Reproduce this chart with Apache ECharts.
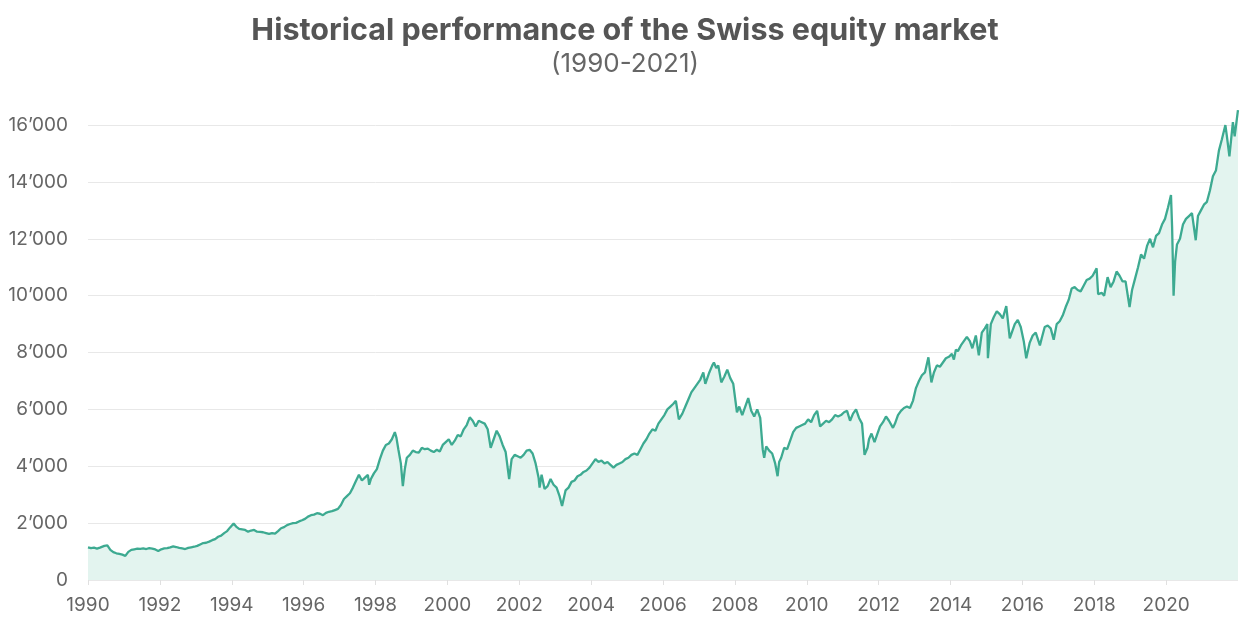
<!DOCTYPE html>
<html><head><meta charset="utf-8">
<script src="https://cdn.jsdelivr.net/npm/echarts@6/dist/echarts.min.js"></script>
<style>html,body{margin:0;padding:0;background:#fff}#c{width:1250px;height:625px}</style>
</head><body><div id="c"></div>
<script>
// Dates (approximate) and index level values
const dates = [
'1990-01-01','1990-02-01','1990-03-01','1990-04-01','1990-05-01','1990-06-15','1990-07-15','1990-08-15','1990-09-15','1990-10-15','1990-11-15','1990-12-15',
'1991-01-15','1991-02-15','1991-03-15','1991-04-15','1991-05-15','1991-06-15','1991-07-15','1991-08-15','1991-09-15','1991-10-15','1991-11-15','1991-12-15',
'1992-01-15','1992-02-15','1992-03-15','1992-04-15','1992-05-15','1992-06-15','1992-07-15','1992-08-15','1992-09-15','1992-10-15','1992-11-15','1992-12-15',
'1993-01-15','1993-02-15','1993-03-15','1993-04-15','1993-05-15','1993-06-15','1993-07-15','1993-08-15','1993-09-15','1993-10-15','1993-11-15','1993-12-15',
'1994-01-20','1994-02-15','1994-03-15','1994-04-15','1994-05-15','1994-06-15','1994-07-15','1994-08-15','1994-09-15','1994-10-15','1994-11-15','1994-12-15',
'1995-01-15','1995-02-15','1995-03-15','1995-04-15','1995-05-15','1995-06-15','1995-07-15','1995-08-15','1995-09-15','1995-10-15','1995-11-15','1995-12-15',
'1996-01-15','1996-02-15','1996-03-15','1996-04-15','1996-05-15','1996-06-15','1996-07-15','1996-08-15','1996-09-15','1996-10-15','1996-11-15','1996-12-15',
'1997-01-15','1997-02-15','1997-03-15','1997-04-15','1997-05-15','1997-06-15','1997-07-15','1997-08-15','1997-09-15','1997-10-15','1997-10-28','1997-11-15','1997-12-15',
'1998-01-15','1998-02-15','1998-03-15','1998-04-15','1998-05-15','1998-06-15','1998-07-15','1998-08-01','1998-08-20','1998-09-15','1998-10-05','1998-10-25','1998-11-15','1998-12-15',
'1999-01-15','1999-02-15','1999-03-15','1999-04-15','1999-05-15','1999-06-15','1999-07-15','1999-08-15','1999-09-15','1999-10-15','1999-11-15','1999-12-15',
'2000-01-15','2000-02-15','2000-03-15','2000-04-15','2000-05-15','2000-06-15','2000-07-15','2000-08-15','2000-09-15','2000-10-15','2000-11-15','2000-12-15',
'2001-01-15','2001-02-15','2001-03-15','2001-04-15','2001-05-15','2001-06-15','2001-07-15','2001-08-15','2001-09-20','2001-10-15','2001-11-15','2001-12-15',
'2002-01-15','2002-02-15','2002-03-15','2002-04-15','2002-05-15','2002-06-15','2002-07-15','2002-07-25','2002-08-15','2002-09-15','2002-10-15','2002-11-15','2002-12-15',
'2003-01-15','2003-02-15','2003-03-10','2003-04-15','2003-05-15','2003-06-15','2003-07-15','2003-08-15','2003-09-15','2003-10-15','2003-11-15','2003-12-15',
'2004-01-15','2004-02-15','2004-03-15','2004-04-15','2004-05-15','2004-06-15','2004-07-15','2004-08-15','2004-09-15','2004-10-15','2004-11-15','2004-12-15',
'2005-01-15','2005-02-15','2005-03-15','2005-04-15','2005-05-15','2005-06-15','2005-07-15','2005-08-15','2005-09-15','2005-10-15','2005-11-15','2005-12-15',
'2006-01-15','2006-02-15','2006-03-15','2006-04-15','2006-05-10','2006-06-10','2006-07-15','2006-08-15','2006-09-15','2006-10-15','2006-11-15','2006-12-15',
'2007-01-15','2007-02-15','2007-03-05','2007-04-15','2007-05-15','2007-06-01','2007-06-25','2007-07-15','2007-08-15','2007-09-15','2007-10-15','2007-11-15','2007-12-15',
'2008-01-22','2008-02-15','2008-03-15','2008-04-15','2008-05-15','2008-06-15','2008-07-15','2008-08-15','2008-09-15','2008-10-10','2008-10-25','2008-11-15','2008-12-15',
'2009-01-15','2009-02-15','2009-03-09','2009-03-25','2009-04-15','2009-05-15','2009-06-15','2009-07-15','2009-08-15','2009-09-15','2009-10-15','2009-11-15','2009-12-15',
'2010-01-15','2010-02-15','2010-03-15','2010-04-15','2010-05-15','2010-06-15','2010-07-15','2010-08-15','2010-09-15','2010-10-15','2010-11-15','2010-12-15',
'2011-01-15','2011-02-15','2011-03-15','2011-04-15','2011-05-15','2011-06-15','2011-07-15','2011-08-10','2011-09-10','2011-09-25','2011-10-20','2011-11-20','2011-12-15',
'2012-01-15','2012-02-15','2012-03-15','2012-04-15','2012-05-25','2012-06-15','2012-07-15','2012-08-15','2012-09-15','2012-10-15','2012-11-15','2012-12-15',
'2013-01-15','2013-02-15','2013-03-15','2013-04-15','2013-05-20','2013-06-20','2013-07-15','2013-08-15','2013-09-15','2013-10-15','2013-11-15','2013-12-15',
'2014-01-15','2014-02-05','2014-02-25','2014-03-15','2014-04-15','2014-05-15','2014-06-15','2014-07-15','2014-08-10','2014-09-15','2014-10-15','2014-11-15','2014-12-15',
'2015-01-10','2015-01-16','2015-02-15','2015-03-15','2015-04-15','2015-05-15','2015-06-15','2015-07-20','2015-08-25','2015-09-15','2015-10-15','2015-11-15','2015-12-15',
'2016-01-15','2016-02-10','2016-03-15','2016-04-15','2016-05-15','2016-06-27','2016-07-15','2016-08-15','2016-09-15','2016-10-15','2016-11-15','2016-12-15',
'2017-01-15','2017-02-15','2017-03-15','2017-04-15','2017-05-15','2017-06-15','2017-07-15','2017-08-15','2017-09-15','2017-10-15','2017-11-15','2017-12-15',
'2018-01-25','2018-02-10','2018-03-15','2018-04-10','2018-05-15','2018-06-15','2018-07-15','2018-08-15','2018-09-15','2018-10-15','2018-11-15','2018-12-25',
'2019-01-20','2019-02-20','2019-03-20','2019-04-20','2019-05-20','2019-06-20','2019-07-20','2019-08-20','2019-09-20','2019-10-20','2019-11-20','2019-12-20',
'2020-01-20','2020-02-20','2020-03-01','2020-03-16','2020-04-01','2020-04-20','2020-05-20','2020-06-20','2020-07-20','2020-08-20','2020-09-20','2020-10-28','2020-11-20','2020-12-20',
'2021-01-20','2021-02-20','2021-03-20','2021-04-20','2021-05-20','2021-06-20','2021-07-20','2021-08-25','2021-09-10','2021-10-05','2021-11-10','2021-11-28','2021-12-31'
];
const values = [
1150,1120,1135,1105,1140,1200,1215,1060,980,940,920,890,
850,990,1060,1080,1100,1095,1110,1090,1120,1105,1075,1020,
1080,1110,1120,1150,1185,1160,1130,1110,1090,1130,1150,1170,
1200,1250,1300,1310,1350,1400,1440,1520,1560,1650,1720,1850,
1990,1880,1800,1780,1760,1700,1740,1760,1700,1690,1680,1650,
1620,1650,1630,1720,1820,1860,1930,1970,2000,2010,2060,2100,
2150,2230,2280,2300,2350,2330,2280,2360,2400,2420,2460,2500,
2640,2850,2950,3050,3250,3480,3700,3500,3600,3700,3350,3550,3750,
3900,4250,4550,4750,4800,4950,5200,5000,4600,4100,3300,3900,4300,4400,
4550,4500,4480,4650,4600,4620,4550,4500,4580,4520,4750,4850,
4950,4750,4900,5100,5050,5300,5450,5720,5600,5400,5600,5550,
5500,5300,4650,4950,5250,5050,4750,4500,3550,4250,4400,4350,
4300,4400,4550,4580,4450,4100,3600,3250,3700,3200,3300,3550,3350,
3250,2950,2600,3150,3250,3450,3500,3650,3700,3800,3850,3950,
4100,4250,4150,4200,4100,4150,4050,3950,4050,4100,4150,4250,
4300,4400,4450,4400,4600,4800,4950,5150,5300,5250,5500,5650,
5800,6000,6100,6200,6300,5650,5850,6100,6350,6600,6750,6900,
7050,7300,6900,7300,7550,7650,7450,7550,6950,7150,7400,7100,6900,
5900,6100,5800,6100,6400,5950,5750,6000,5700,4600,4300,4700,4550,
4450,4100,3650,4150,4300,4650,4600,4900,5200,5350,5400,5450,5500,
5650,5550,5800,5950,5400,5500,5600,5550,5650,5800,5750,5800,
5900,5950,5600,5850,6000,5700,5500,4400,4650,4950,5150,4850,5100,
5400,5550,5750,5600,5350,5500,5800,5950,6050,6100,6050,6300,
6750,7000,7200,7300,7830,6950,7300,7550,7500,7650,7800,7850,
7950,7750,8100,8050,8250,8400,8550,8400,8150,8600,7900,8700,8850,
9000,7800,9000,9250,9450,9350,9200,9630,8500,8700,9000,9150,8900,
8400,7800,8350,8600,8700,8250,8500,8900,8950,8850,8450,9000,
9100,9300,9600,9850,10250,10300,10200,10150,10350,10550,10600,10700,
10960,10050,10100,10000,10650,10300,10500,10850,10700,10500,10500,9600,
10200,10600,11000,11450,11300,11750,12000,11700,12100,12200,12500,12700,
13100,13537,12400,10000,11200,11800,12000,12500,12700,12800,12900,11950,12800,13000,
13200,13300,13700,14200,14400,15100,15500,16000,15600,14900,16100,15600,16525
];
const xTickYears = [1990,1992,1994,1996,1998,2000,2002,2004,2006,2008,2010,2012,2014,2016,2018,2020];
const yTickValues = [0,2000,4000,6000,8000,10000,12000,14000,16000];

function toYear(s){const p=s.split('-').map(Number);return p[0]+(p[1]-1)/12+(p[2]-1)/365;}
const seriesData = dates.map((d,i)=>[toYear(d), values[i]]);
function fmtThousands(v){const s=String(Math.round(v));return s.replace(/\B(?=(\d{3})+(?!\d))/g,'\u2019');}

const chart = echarts.init(document.getElementById('c'), null, {renderer:'canvas'});
chart.setOption({
  animation:false,
  backgroundColor:'#ffffff',
  textStyle:{fontFamily:'Inter'},
  title:[
    {text:'Historical performance of the Swiss equity market',left:'center',top:10,
     textStyle:{fontFamily:'Inter',fontSize:30.5,fontWeight:'bold',color:'#555555'}},
    {text:'(1990-2021)',left:'center',top:46,
     textStyle:{fontFamily:'Inter',fontSize:26,fontWeight:'normal',color:'#666666'}}
  ],
  grid:{left:88,right:12,top:108,bottom:45,containLabel:false},
  xAxis:{type:'value',min:1990,max:2022,interval:2,
    axisLine:{show:false},
    axisTick:{show:true,length:5,lineStyle:{color:'#e0e0e0'},customValues:xTickYears},
    axisLabel:{customValues:xTickYears,margin:16,fontFamily:'Inter',fontSize:19,color:'#666666',formatter:v=>String(Math.round(v))},
    splitLine:{show:false}},
  yAxis:{type:'value',min:0,max:16600,interval:2000,
    axisLine:{show:false},axisTick:{show:false,customValues:yTickValues},
    axisLabel:{customValues:yTickValues,margin:20,fontFamily:'Inter',fontSize:19,color:'#666666',formatter:fmtThousands},
    splitLine:{show:true,lineStyle:{color:'#e8e8e8',width:1}}},
  series:[{type:'line',data:seriesData,showSymbol:false,symbol:'none',
    lineStyle:{color:'#3daa91',width:2.3},
    areaStyle:{color:'#e3f4ef',opacity:1},
    itemStyle:{color:'#3daa91'}}]
});
</script></body></html>
